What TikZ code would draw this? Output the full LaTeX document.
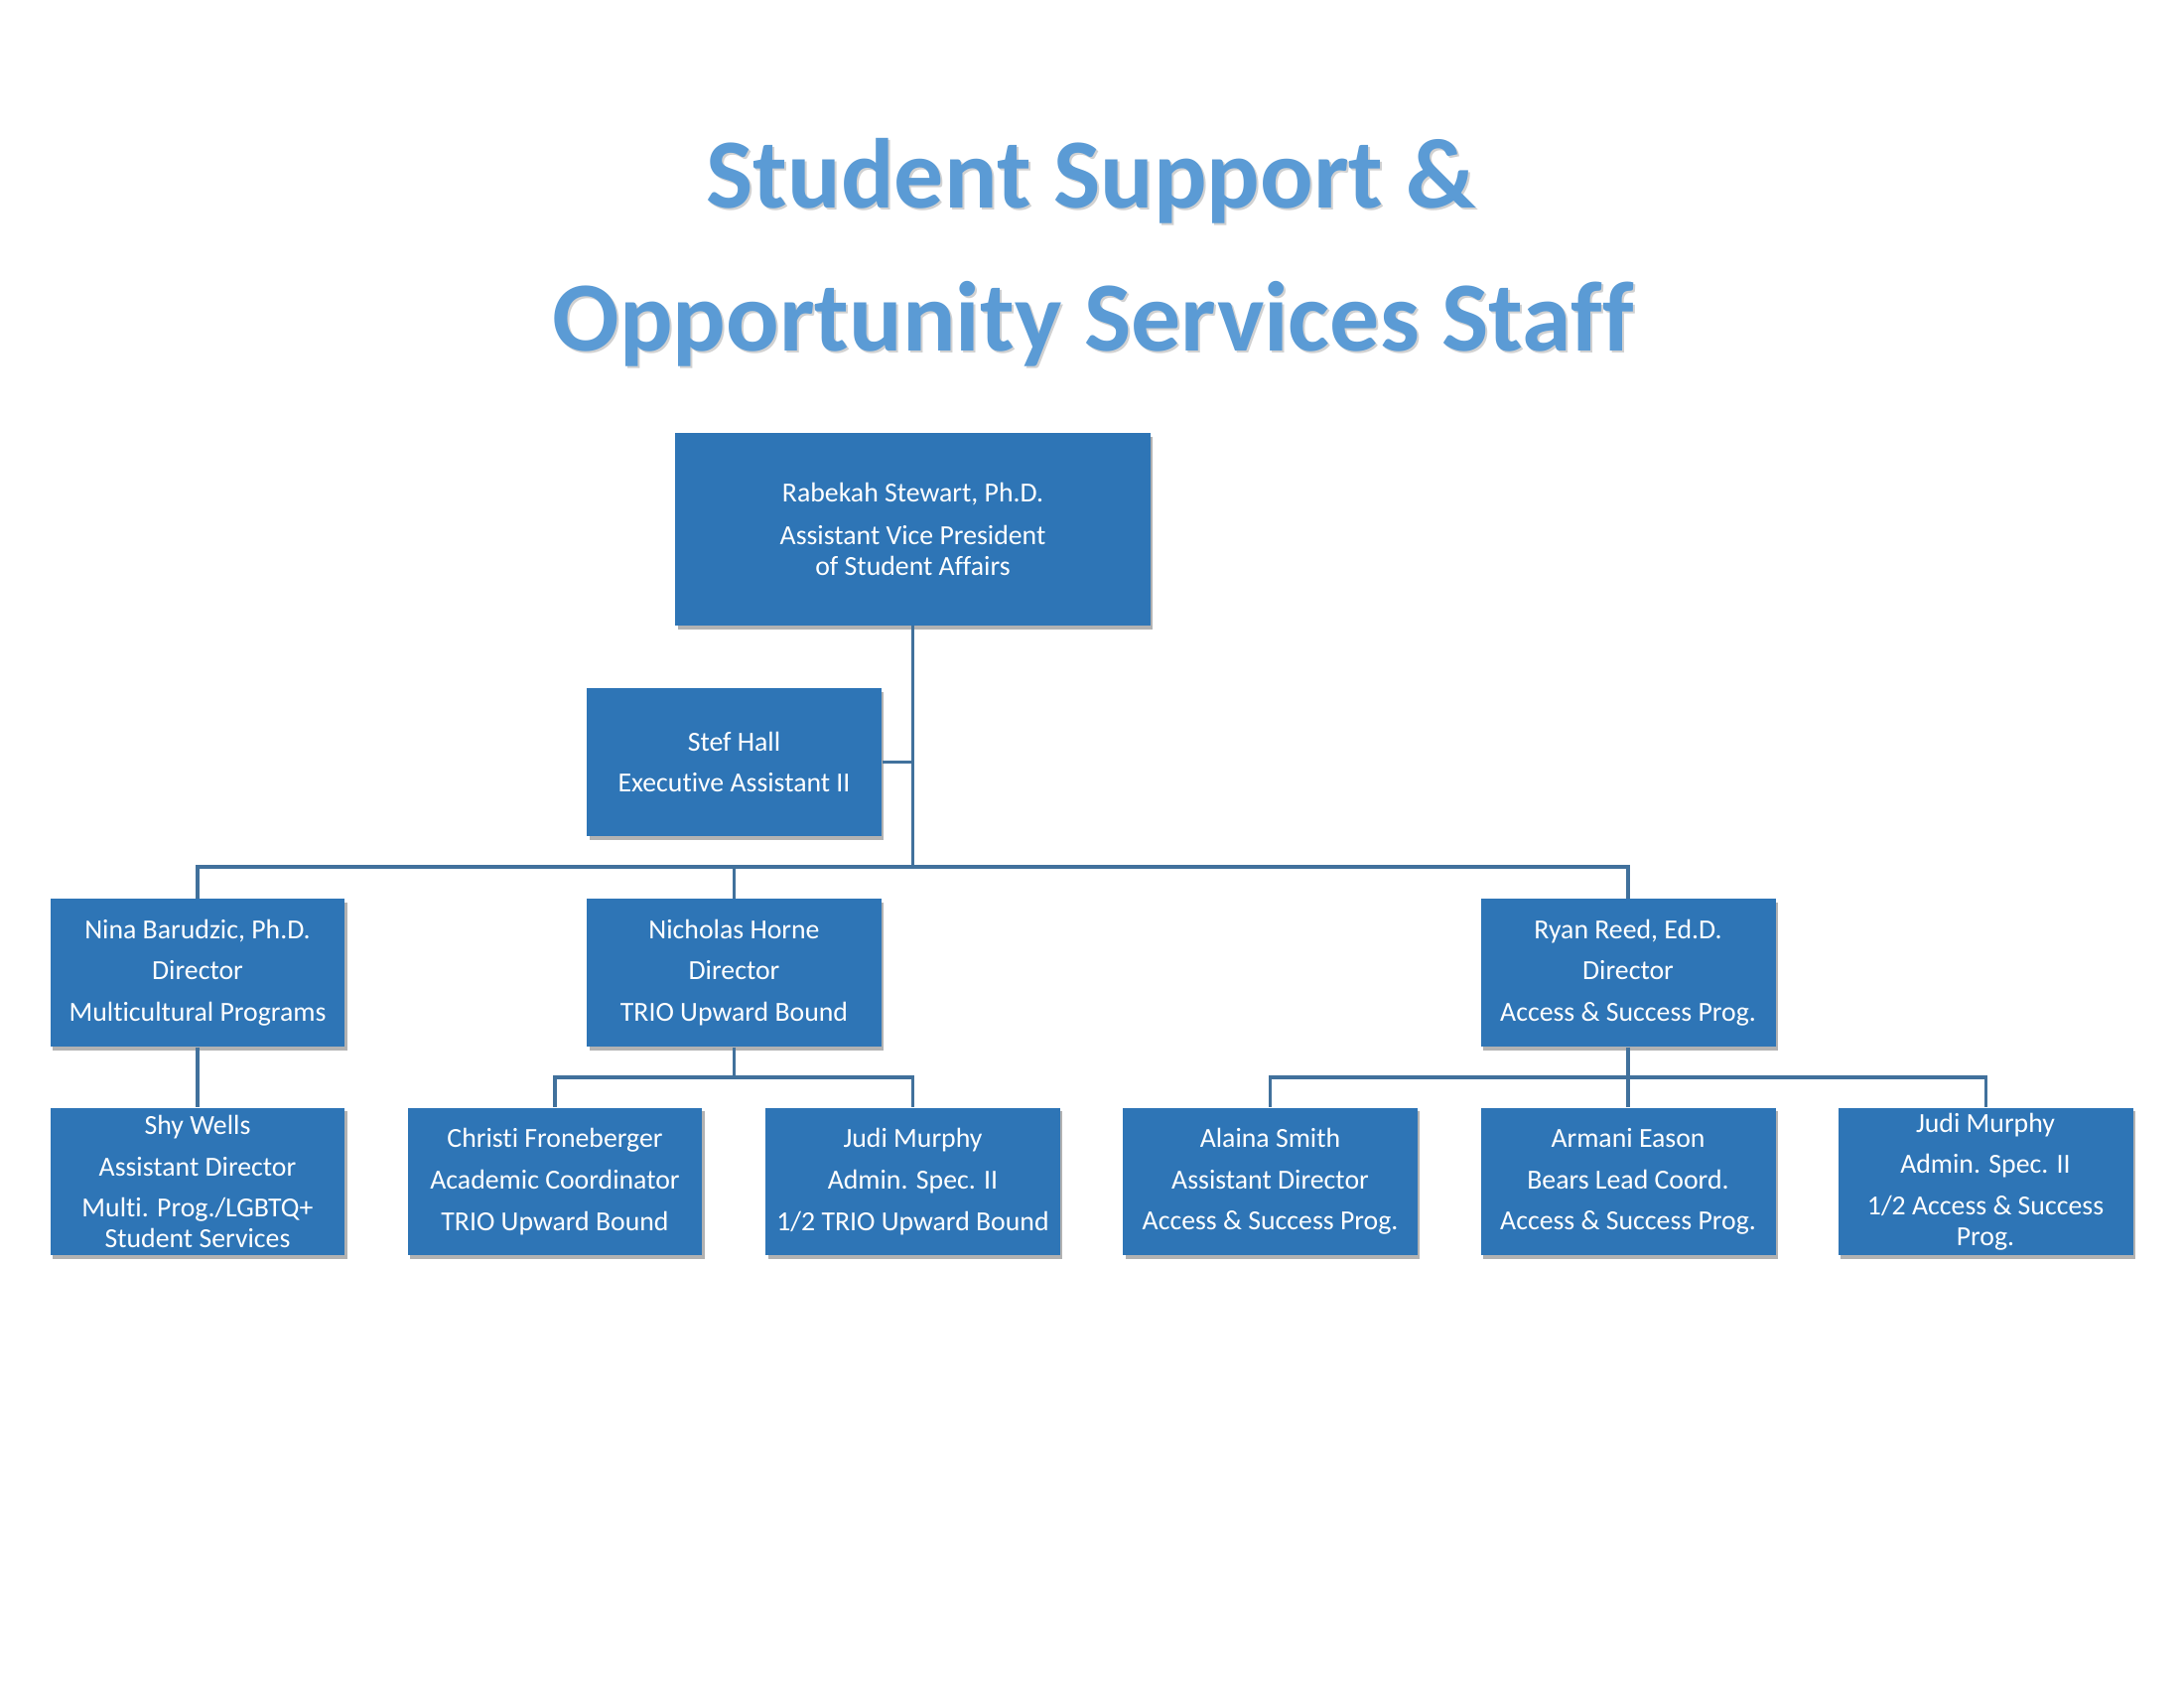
\documentclass[tikz,border=0pt]{standalone}
\usepackage{fontspec}
\setmainfont[Ligatures=NoCommon]{Carlito}
\usetikzlibrary{shadows}
\definecolor{boxblue}{HTML}{2E75B6}
\definecolor{titleblue}{HTML}{5B9BD5}
\definecolor{lineblue}{HTML}{41719C}
\begin{document}
\begin{tikzpicture}[x=0.36pt,y=-0.36pt,
  box/.style={fill=boxblue, draw=none, text=white, align=center, inner sep=0pt,
    minimum width=106.9pt, minimum height=53.6pt,
    font=\fontsize{10}{11}\selectfont,
    drop shadow={shadow xshift=0.9pt, shadow yshift=-1.3pt, opacity=0.3, fill=black}},
  bigbox/.style={box, minimum width=172.4pt, minimum height=69.8pt},
  conn/.style={draw=lineblue, line width=1.1pt},
  ttl/.style={font=\fontsize{36}{40}\selectfont\bfseries, text=titleblue, anchor=base, inner sep=0pt},
  ttlshadow/.style={ttl, text=black, opacity=0.18}
]
\useasboundingbox (0,0) rectangle (2200,1700);
\fill[white] (0,0) rectangle (2200,1700);

% title
\node[ttlshadow] at (1101,212) {Student Support \&};
\node[ttlshadow] at (1103,356) {Opportunity Services Staff};
\node[ttl] (t1) at (1099,210) {Student Support \&};
\node[ttl] (t2) at (1101,354) {Opportunity Services Staff};

% boxes
\node[bigbox] (top) at (919.5,533) {Rabekah Stewart, Ph.D.\\[4.5pt]Assistant Vice President\\of Student Affairs};
\node[box] (stef) at (739.5,767.5) {Stef Hall\\[4pt]Executive Assistant II};

\node[box] (nina) at (199,979.5) {Nina Barudzic, Ph.D.\\[4pt]Director\\[4pt]Multicultural Programs};
\node[box] (nich) at (739.5,979.5) {Nicholas Horne\\[4pt]Director\\[4pt]TRIO Upward Bound};
\node[box] (ryan) at (1640,979.5) {Ryan Reed, Ed.D.\\[4pt]Director\\[4pt]Access \& Success Prog.};

\node[box] (shy) at (199,1190) {Shy Wells\\[4pt]Assistant Director\\[4pt]Multi. Prog./LGBTQ+\\Student Services};
\node[box] (chr) at (559,1190) {Christi Froneberger\\[4pt]Academic Coordinator\\[4pt]TRIO Upward Bound};
\node[box] (jud1) at (919.5,1190) {Judi Murphy\\[4pt]Admin. Spec. II\\[4pt]1/2 TRIO Upward Bound};
\node[box] (ala) at (1279.5,1190) {Alaina Smith\\[4pt]Assistant Director\\[4pt]Access \& Success Prog.};
\node[box] (arm) at (1640,1190) {Armani Eason\\[4pt]Bears Lead Coord.\\[4pt]Access \& Success Prog.};
\node[box] (jud2) at (2000,1190) {Judi Murphy\\[4pt]Admin. Spec. II\\[4pt]1/2 Access \& Success\\Prog.};

% connectors
\coordinate (j1) at (919.5,873);
\coordinate (j2) at (739.5,1085);
\coordinate (j3) at (1640,1085);
\draw[conn] (top.south) -- (j1);
\draw[conn] (stef.east) -- (stef.east -| top.south);
\draw[conn] (nina.north) |- (j1) -| (ryan.north);
\draw[conn] (nich.north) -- (nich.north |- j1);
\draw[conn] (nina.south) -- (shy.north);
\draw[conn] (nich.south) -- (j2);
\draw[conn] (chr.north) |- (j2) -| (jud1.north);
\draw[conn] (ryan.south) -- (j3);
\draw[conn] (ala.north) |- (j3) -| (jud2.north);
\draw[conn] (arm.north) -- (j3);
\end{tikzpicture}
\end{document}
